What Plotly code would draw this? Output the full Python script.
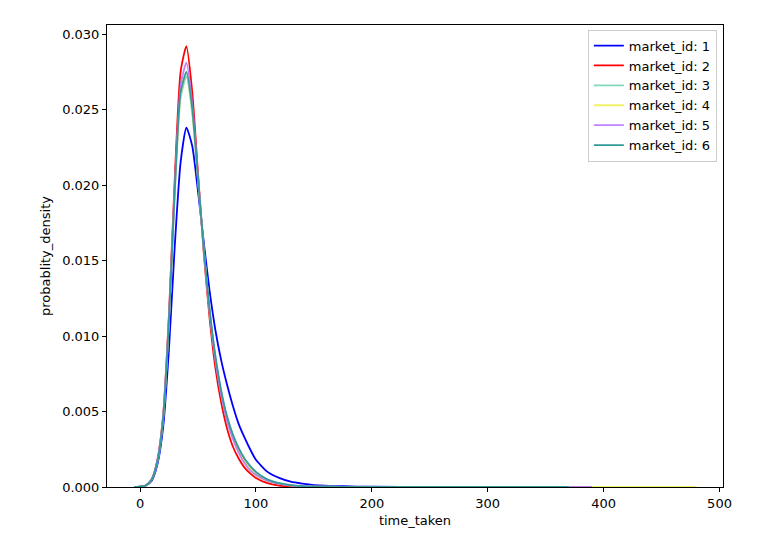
import plotly.graph_objects as go

x = [-5,0,5,10,15,20,25,30,35,40,45,50,55,60,65,70,75,80,85,90,95,100,110,120,130,140,150,175,200,250,300,370]
m1 = [0,0.00002,0.0001,0.0004,0.0015,0.004,0.0092,0.016,0.0215,0.0238,0.0226,0.0196,0.0162,0.013,0.0104,0.0084,0.0068,0.0054,0.0042,0.0033,0.0025,0.0018,0.001,0.0006,0.00035,0.00022,0.00013,0.00005,0.00002,0.00001,0,0]
m2 = [0,0.00002,0.0001,0.0005,0.0018,0.0048,0.0115,0.0205,0.0275,0.0292,0.0262,0.0208,0.0155,0.0112,0.0079,0.0056,0.0039,0.0027,0.0019,0.0013,0.0009,0.0006,0.00025,0.0001,0.00005,0.00003,0.00002,0,0,0,0,0]
m3 = [0,0.00002,0.0001,0.0005,0.0017,0.0046,0.011,0.0195,0.0258,0.0272,0.0248,0.0203,0.0157,0.0117,0.0086,0.0063,0.0046,0.0034,0.0025,0.0018,0.0013,0.0009,0.0005,0.00025,0.00012,0.00006,0.00003,0.00001,0,0,0,0]
m4 = [0,0.00002,0.0001,0.0005,0.0017,0.0046,0.0111,0.0196,0.026,0.0275,0.025,0.0204,0.0157,0.0117,0.0085,0.0062,0.0045,0.0033,0.0024,0.0017,0.0012,0.0008,0.0004,0.0002,0.0001,0.00005,0.00003,0.00001,0.00001,0.00001,0,0]
m5 = [0,0.00002,0.0001,0.0005,0.0018,0.0047,0.0113,0.02,0.0266,0.0281,0.0255,0.0206,0.0157,0.0116,0.0084,0.0061,0.0044,0.0032,0.0023,0.0016,0.0011,0.0008,0.0004,0.0002,0.0001,0.00005,0.00003,0.00001,0,0,0,0]
m6 = [0,0.00002,0.0001,0.0005,0.0017,0.0046,0.0111,0.0197,0.0261,0.0275,0.0251,0.0205,0.0158,0.0118,0.0087,0.0064,0.0047,0.0035,0.0026,0.0019,0.0014,0.001,0.0005,0.00025,0.00012,0.00006,0.00003,0.00001,0,0,0,0]
x4_ext = [370, 400, 440, 480]
m4_ext = [0, 0, 0, 0]
x5_ext = [370, 390]
m5_ext = [0, 0]

names = ["market_id: 1","market_id: 2","market_id: 3","market_id: 4","market_id: 5","market_id: 6"]
colors = ["#0000ff","#ff0000","rgba(102,205,170,0.8)","rgba(240,240,90,0.9)","rgba(180,100,255,0.8)","#339999"]
series = [(x,m1),(x,m2),(x,m3),(x+x4_ext,m4+m4_ext),(x+x5_ext,m5+m5_ext),(x,m6)]

fig = go.Figure()
for (xs,ys),n,c in zip(series,names,colors):
    fig.add_trace(go.Scatter(x=xs,y=ys,name=n,mode="lines",line=dict(color=c,width=1.8,shape="spline",smoothing=0.6)))

ax = dict(showline=True,mirror=True,linecolor="black",linewidth=1,ticks="outside",ticklen=4,
          tickcolor="black",showgrid=False,zeroline=False,tickfont=dict(size=13))
fig.update_layout(
    width=773,height=557,plot_bgcolor="white",paper_bgcolor="white",
    margin=dict(l=99,r=58,t=17,b=78),
    font=dict(family="DejaVu Sans",size=13,color="black"),
    xaxis=dict(ax,range=[-28.5,503],tickvals=[0,100,200,300,400,500],
               title=dict(text="time_taken",standoff=6,font=dict(size=13))),
    yaxis=dict(ax,range=[0,0.0306],tickvals=[0,0.005,0.01,0.015,0.02,0.025,0.03],tickformat=".3f",
               title=dict(text="probablity_density",standoff=8,font=dict(size=13))),
    legend=dict(x=0.99,y=0.99,xanchor="right",yanchor="top",bordercolor="#cccccc",borderwidth=1,
                bgcolor="rgba(255,255,255,0.8)",font=dict(size=13),tracegroupgap=0),
    showlegend=True,
)
fig.write_html("out.html")
